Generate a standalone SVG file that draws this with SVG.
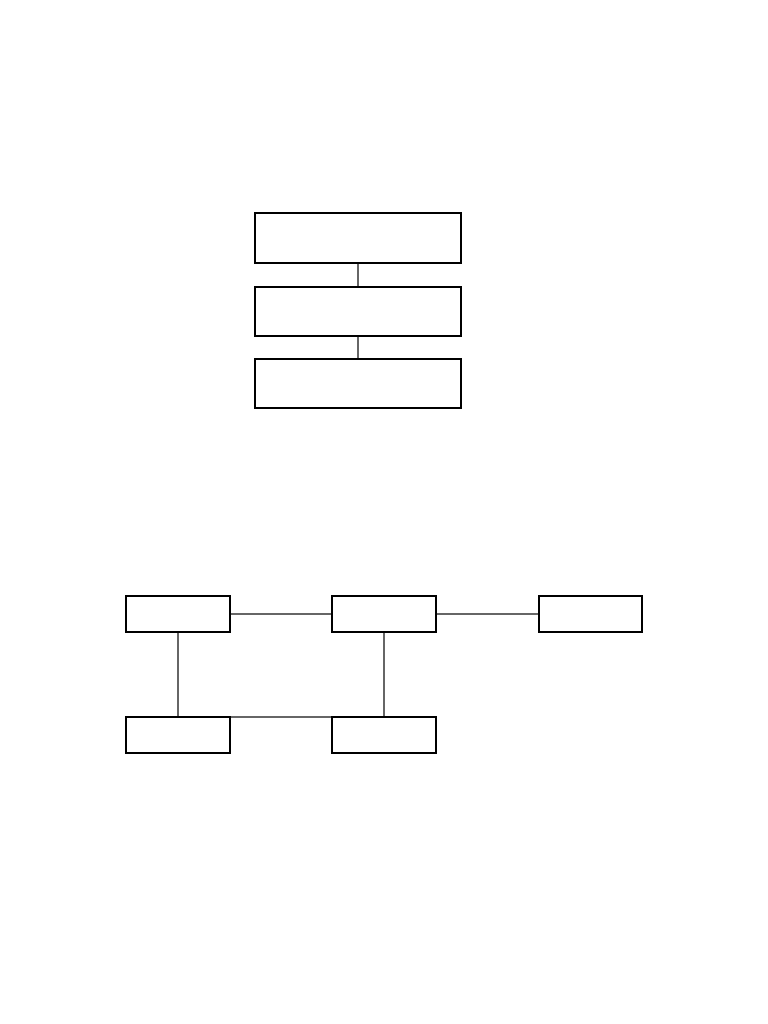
<svg xmlns="http://www.w3.org/2000/svg" width="768" height="1024" viewBox="0 0 768 1024">
<style>
.box{fill:#fff;stroke:#000;stroke-width:2}
.edge{stroke:#333;stroke-width:1.5;fill:none}
</style>
<rect width="768" height="1024" fill="#fff"/>
<g id="connectors">
<line class="edge" x1="358" y1="263" x2="358" y2="287"/>
<line class="edge" x1="358" y1="336" x2="358" y2="359"/>
<line class="edge" x1="230" y1="614" x2="332" y2="614"/>
<line class="edge" x1="436" y1="614" x2="539" y2="614"/>
<line class="edge" x1="178" y1="632" x2="178" y2="717"/>
<line class="edge" x1="384" y1="632" x2="384" y2="717"/>
<line class="edge" x1="230" y1="717" x2="332" y2="717"/>
</g>
<g id="top1"><rect class="box" x="255" y="213" width="206" height="50"/></g>
<g id="top2"><rect class="box" x="255" y="287" width="206" height="49"/></g>
<g id="top3"><rect class="box" x="255" y="359" width="206" height="49"/></g>
<g id="nodeA"><rect class="box" x="126" y="596" width="104" height="36"/></g>
<g id="nodeB"><rect class="box" x="332" y="596" width="104" height="36"/></g>
<g id="nodeC"><rect class="box" x="539" y="596" width="103" height="36"/></g>
<g id="nodeD"><rect class="box" x="126" y="717" width="104" height="36"/></g>
<g id="nodeE"><rect class="box" x="332" y="717" width="104" height="36"/></g>
</svg>
